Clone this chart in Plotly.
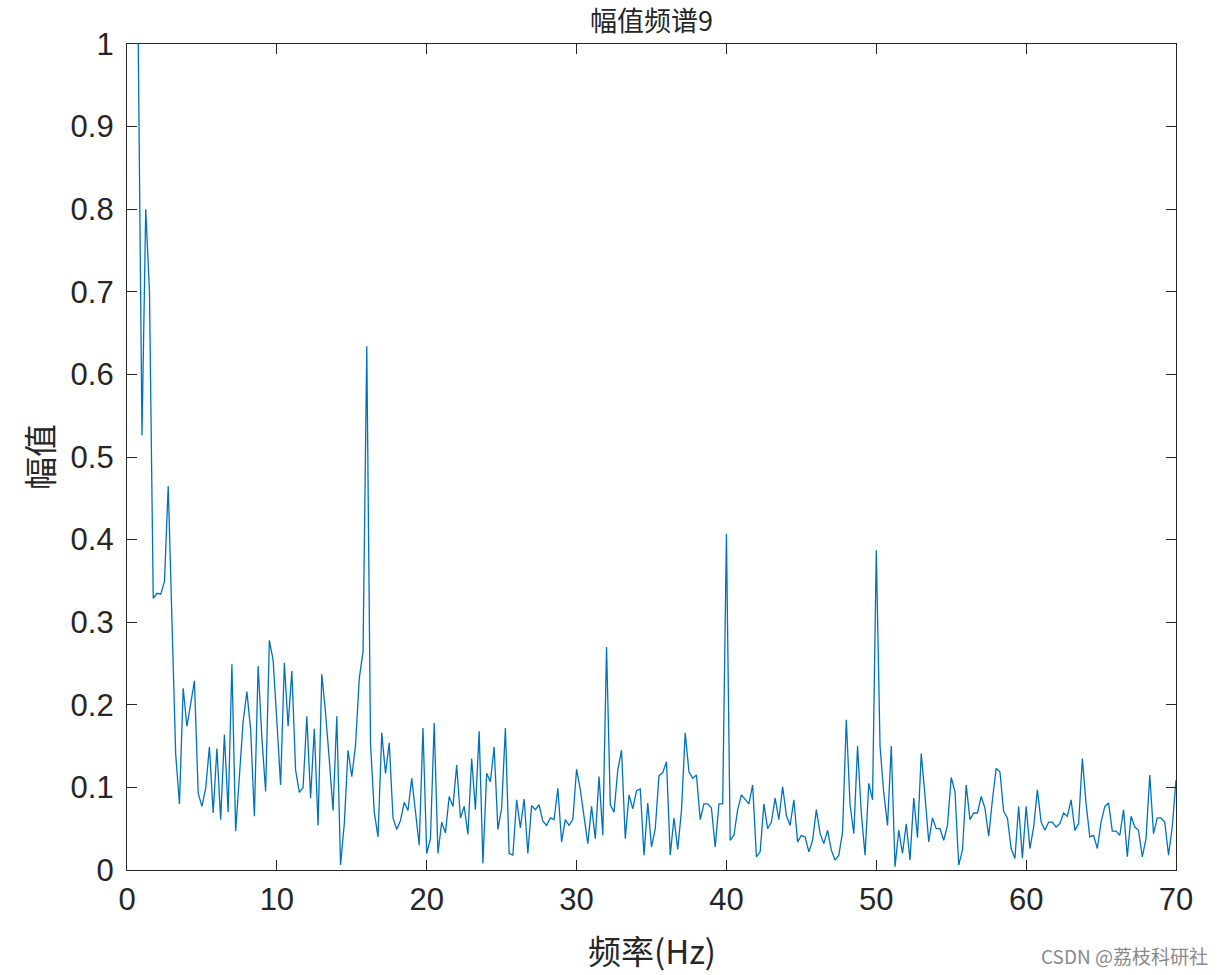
import plotly.graph_objects as go

# Frequency resolution of the spectrum (Hz) and first plotted bin
freq_start = 0.75
freq_step = 0.25

amplitude = [
    1.000, 0.526, 0.800, 0.700, 0.329,                      # 0.75 - 1.75
    0.335, 0.334, 0.349, 0.465,                             # 2.0 - 2.75
    0.290, 0.140, 0.080, 0.220,                             # 3
    0.174, 0.200, 0.229, 0.093,                             # 4
    0.077, 0.099, 0.149, 0.069,                             # 5
    0.147, 0.061, 0.164, 0.070,                             # 6
    0.249, 0.047, 0.110, 0.180,                             # 7
    0.216, 0.170, 0.065, 0.247,                             # 8
    0.160, 0.095, 0.278, 0.254,                             # 9
    0.180, 0.103, 0.251, 0.174,                             # 10
    0.241, 0.121, 0.094, 0.100,                             # 11
    0.186, 0.087, 0.171, 0.054,                             # 12
    0.237, 0.190, 0.133, 0.072,                             # 13
    0.186, 0.006, 0.056, 0.145,                             # 14
    0.113, 0.151, 0.232, 0.264,                             # 15
    0.634, 0.153, 0.070, 0.040,                             # 16
    0.166, 0.117, 0.154, 0.063,                             # 17
    0.049, 0.060, 0.082, 0.072,                             # 18
    0.111, 0.069, 0.030, 0.172,                             # 19
    0.020, 0.038, 0.178, 0.020,                             # 20
    0.058, 0.045, 0.089, 0.077,                             # 21
    0.127, 0.063, 0.077, 0.043,                             # 22
    0.135, 0.073, 0.168, 0.008,                             # 23
    0.117, 0.107, 0.149, 0.049,                             # 24
    0.075, 0.172, 0.020, 0.018,                             # 25
    0.085, 0.051, 0.086, 0.020,                             # 26
    0.078, 0.073, 0.079, 0.059,                             # 27
    0.054, 0.063, 0.061, 0.099,                             # 28
    0.034, 0.061, 0.054, 0.061,                             # 29
    0.122, 0.097, 0.065, 0.032,                             # 30
    0.077, 0.038, 0.113, 0.042,                             # 31
    0.270, 0.079, 0.070, 0.121,                             # 32
    0.145, 0.038, 0.091, 0.074,                             # 33
    0.096, 0.098, 0.018, 0.081,                             # 34
    0.028, 0.050, 0.114, 0.118,                             # 35
    0.131, 0.018, 0.063, 0.025,                             # 36
    0.072, 0.166, 0.119, 0.111,                             # 37
    0.115, 0.061, 0.080, 0.080,                             # 38
    0.075, 0.028, 0.080, 0.080,                             # 39
    0.407, 0.036, 0.042, 0.073,                             # 40
    0.091, 0.085, 0.080, 0.103,                             # 41
    0.016, 0.022, 0.080, 0.050,                             # 42
    0.058, 0.087, 0.061, 0.101,                             # 43
    0.066, 0.054, 0.085, 0.034,                             # 44
    0.042, 0.040, 0.022, 0.036,                             # 45
    0.073, 0.044, 0.032, 0.048,                             # 46
    0.024, 0.012, 0.018, 0.046,                             # 47
    0.182, 0.079, 0.044, 0.150,                             # 48
    0.069, 0.018, 0.105, 0.085,                             # 49
    0.387, 0.150, 0.093, 0.054,                             # 50
    0.150, 0.004, 0.048, 0.020,                             # 51
    0.056, 0.012, 0.087, 0.039,                             # 52
    0.141, 0.090, 0.034, 0.063,                             # 53
    0.050, 0.050, 0.036, 0.054,                             # 54
    0.112, 0.095, 0.006, 0.024,                             # 55
    0.103, 0.061, 0.069, 0.069,                             # 56
    0.089, 0.075, 0.041, 0.085,                             # 57
    0.123, 0.119, 0.071, 0.063,                             # 58
    0.026, 0.014, 0.077, 0.014,                             # 59
    0.077, 0.026, 0.052, 0.097,                             # 60
    0.058, 0.048, 0.058, 0.058,                             # 61
    0.052, 0.056, 0.069, 0.065,                             # 62
    0.085, 0.048, 0.056, 0.135,                             # 63
    0.080, 0.040, 0.042, 0.026,                             # 64
    0.058, 0.077, 0.081, 0.047,                             # 65
    0.047, 0.042, 0.073, 0.016,                             # 66
    0.065, 0.052, 0.048, 0.016,                             # 67
    0.038, 0.115, 0.044, 0.063,                             # 68
    0.063, 0.058, 0.018, 0.052,                             # 69
    0.109,                                                  # 70
]
frequency = [freq_start + freq_step * i for i in range(len(amplitude))]

x_ticks = [0, 10, 20, 30, 40, 50, 60, 70]
y_ticks = [0, 0.1, 0.2, 0.3, 0.4, 0.5, 0.6, 0.7, 0.8, 0.9, 1]
y_tick_text = ["0", "0.1", "0.2", "0.3", "0.4", "0.5", "0.6", "0.7", "0.8", "0.9", "1"]

title_text = "幅值频谱9"
x_label = "频率(Hz)"
y_label = "幅值"
watermark = "CSDN @荔枝科研社"

FONT = "Liberation Sans, Arial, Noto Sans CJK SC, sans-serif"
CJK = "Noto Sans CJK SC, Liberation Sans, sans-serif"
AX = "#262626"

fig = go.Figure()
fig.add_trace(go.Scatter(
    x=frequency, y=amplitude, mode="lines",
    line=dict(color="#0072BD", width=1.3),
    showlegend=False, hoverinfo="skip",
))

axis_common = dict(
    showgrid=False, zeroline=False,
    showline=True, linecolor=AX, linewidth=1.2, mirror="ticks",
    ticks="inside", ticklen=10, tickcolor=AX, tickwidth=1.2,
    tickfont=dict(family=FONT, size=31, color=AX),
)

fig.update_layout(
    width=1223, height=975,
    margin=dict(l=127, r=47, t=44, b=105),
    paper_bgcolor="white", plot_bgcolor="white",
    title=dict(text=title_text, x=0.5, xref="paper", xanchor="center",
               y=1 - 22 / 975, yref="container", yanchor="middle",
               font=dict(family=CJK, size=27, color=AX)),
    xaxis=dict(range=[0, 70], tickvals=x_ticks, ticktext=[str(v) for v in x_ticks],
               ticklabelstandoff=2, **axis_common),
    yaxis=dict(range=[0, 1], tickvals=y_ticks, ticktext=y_tick_text,
               ticklabelstandoff=6, **axis_common),
    annotations=[
        dict(text=x_label, x=0.5, y=-0.097, xref="paper", yref="paper",
             xanchor="center", yanchor="middle", showarrow=False,
             font=dict(family=CJK, size=33, color=AX)),
        dict(text=y_label, x=-0.084, y=0.5, xref="paper", yref="paper",
             xanchor="center", yanchor="middle", textangle=-90, showarrow=False,
             font=dict(family=CJK, size=33, color=AX)),
        dict(text=watermark, x=1.0324, y=-0.103, xref="paper", yref="paper",
             xanchor="right", yanchor="middle", showarrow=False,
             font=dict(family=CJK, size=19, color="#8a8a8a")),
    ],
)

fig.write_html("out.html", config={"displayModeBar": False},
               post_script="document.body.style.margin='0';")
